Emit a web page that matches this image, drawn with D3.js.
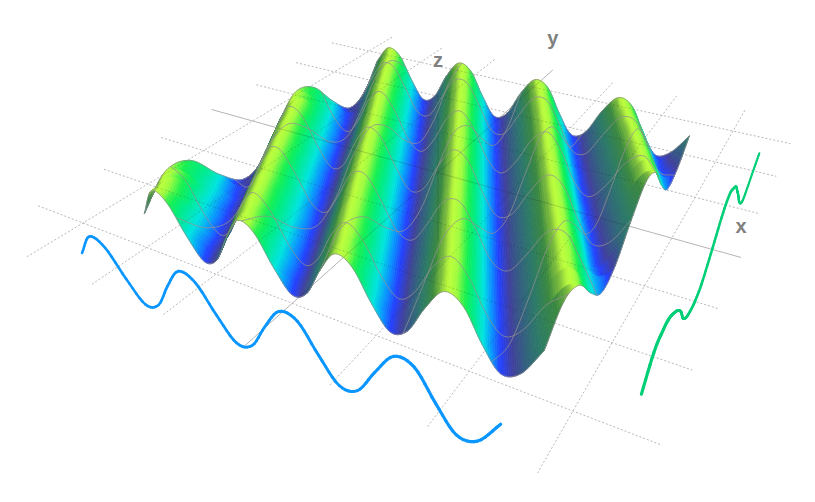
<!DOCTYPE html>
<html><head><meta charset="utf-8">
<script src="https://cdn.jsdelivr.net/npm/d3@7"></script>
<style>html,body{margin:0;padding:0;background:#fff}svg{display:block}</style>
</head><body><svg id="chart" width="815" height="502"></svg>
<script>
// ---- data ----
const tickValues=[-3,-2,-1,0,1,2,3];
const xValues=[-2.52,-2.31,-2.10,-1.89,-1.68,-1.47,-1.26,-1.05,-0.84,-0.63,-0.42,-0.21,0,0.21,0.42,0.63,0.84,1.05,1.26,1.47,1.68,1.89,2.10,2.31,2.52];
const yValues=[-2.52,-2.10,-1.68,-1.26,-0.84,-0.42,0,0.42,0.84,1.26,1.68,2.10,2.52];
const zRows=[
[1,36,27,-9,-36,-27,9,36,27,-9,-36,-27,9,36,27,-9,-36,-27,9,36,27,-9,-36,-27,9],
[34,30,-9,-36,-27,9,36,27,-9,-36,-27,9,36,27,-9,-36,-27,9,36,27,-9,-36,-27,9,36],
[29,-9,-36,-27,9,36,27,-9,-36,-27,9,36,27,-9,-36,-27,9,36,27,-9,-36,-27,9,36,27],
[-9,-36,-27,9,36,27,-9,-36,-27,9,36,27,-9,-36,-27,9,36,27,-9,-36,-27,9,36,27,-9],
[-36,-27,9,36,27,-9,-36,-27,9,36,27,-9,-36,-27,9,36,27,-9,-36,-27,9,36,27,-9,-36],
[-27,9,36,27,-9,-36,-27,9,36,27,-9,-36,-27,9,36,27,-9,-36,-27,9,36,27,-9,-36,-27],
[9,36,27,-9,-36,-27,9,36,27,-9,-36,-27,9,36,27,-9,-36,-27,9,36,27,-9,-36,-27,9],
[36,27,-9,-36,-27,9,36,27,-9,-36,-27,9,36,27,-9,-36,-27,9,36,27,-9,-36,-27,9,36],
[27,-9,-36,-27,9,36,27,-9,-36,-27,9,36,27,-9,-36,-27,9,36,27,-9,-36,-27,9,35,27],
[-9,-36,-27,9,36,27,-9,-36,-27,9,36,27,-9,-36,-27,9,36,27,-9,-36,-27,9,35,27,-9],
[-36,-27,9,34,27,-9,-36,-27,9,34,27,-9,-36,-27,9,34,27,-9,-36,-27,9,34,27,-9,-36],
[-27,9,33,25,-9,-36,-27,9,33,25,-9,-36,-27,9,33,25,-9,-36,-27,9,33,25,-9,-36,-27],
[9,33,25,-9,-36,-27,9,33,25,-9,-36,-27,9,33,25,-9,-36,-27,9,33,25,-9,-36,-27,2]
];
const blueZ=[1,28,21,-10,-35,-28,3,28,22,-9,-35,-30,1,27,24,-7,-34,-31,0,27,24,-7,-34,-31,-1];
const greenZ=[0,30,37,37,29,18,2,-20,-33,-38,-38,-27,2,34,46,42,34,18,2,-16,-30,-36,-26,-12,0];
const axisNames=["x","y","z"];

// ---- camera ----
const M=[[344,455.1,-27.4,83],[83.3,-148.6,-91.5,223],[-0.2548,0.4582,-0.0626,1]];
const aS=d3.scaleLinear().domain([-3,3]).range([0,1]);
const zS=d3.scaleLinear().domain([-1,1]).range([-1,1]);
function project(x,y,z){
  const a=aS(x),b=aS(y),c=zS(z);
  const w=M[2][0]*a+M[2][1]*b+M[2][2]*c+M[2][3];
  return [(M[0][0]*a+M[0][1]*b+M[0][2]*c+M[0][3])/w,(M[1][0]*a+M[1][1]*b+M[1][2]*c+M[1][3])/w,w];
}
const svg=d3.select("#chart");
const line=d3.line();
const LEXT=3.76;

// ---- colour along the wave ----
const colour=d3.scaleLinear()
 .domain([0,.06,.14,.20,.30,.38,.46,.56,.66,.76,.86,.93,.97,1])
 .range(["#bcff3c","#a0fb40","#18f050","#00ec80","#00e4e0","#0a90ff","#2440ff","#40409c","#335f80","#2c7a68","#3a8840","#80c03c","#b0f03c","#bcff3c"])
 .interpolate(d3.interpolateRgb);

// ---- smooth sampling of the table ----
function cr(p0,p1,p2,p3,t){return .5*((2*p1)+(-p0+p2)*t+(2*p0-5*p1+4*p2-p3)*t*t+(-p0+3*p1-3*p2+p3)*t*t*t);}
const C=xValues.length,R=yValues.length;
function val(i,j){
  let ii=Math.max(0,Math.min(C-1,i)),jj=Math.max(0,Math.min(R-1,j));
  let v=zRows[jj][ii];
  if(i<0)v+=i*(zRows[jj][1]-zRows[jj][0]); if(i>C-1)v+=(i-C+1)*(zRows[jj][C-1]-zRows[jj][C-2]);
  if(j<0)v+=j*(zRows[1][ii]-zRows[0][ii]); if(j>R-1)v+=(j-R+1)*(zRows[R-1][ii]-zRows[R-2][ii]);
  return v/100;
}
const slope=(i,j)=>(val(i+1,j)-val(i-1,j))/2/0.866;
function bicubic(f,u,v){
  const i=Math.max(0,Math.min(C-2,Math.floor(u))),j=Math.max(0,Math.min(R-2,Math.floor(v))),tu=u-i,tv=v-j,row=[];
  for(let k=-1;k<=2;k++)row.push(cr(f(i-1,j+k),f(i,j+k),f(i+1,j+k),f(i+2,j+k),tu));
  return cr(row[0],row[1],row[2],row[3],tv);
}
const sample=(u,v)=>bicubic(val,u,v);
const ux=d3.scaleLinear().domain([0,C-1]).range([xValues[0],xValues[C-1]]);
const vy=d3.scaleLinear().domain([0,R-1]).range([yValues[0],yValues[R-1]]);
const P=(u,v)=>project(ux(u),vy(v),sample(u,v));

// ---- floor ----
function gridLines(g,cls){
  tickValues.forEach(t=>{
    [[[-LEXT,t],[LEXT,t]],[[t,-LEXT],[t,LEXT]]].forEach(([s,e])=>{
      g.append("path").attr("d",line([project(s[0],s[1],0),project(e[0],e[1],0)].map(p=>[p[0],p[1]])))
       .attr("fill","none").attr("class",cls+(t===0?" axis":""));
    });
  });
  g.append("path").attr("class",cls+" axis").attr("fill","none")
   .attr("d",line([project(0,0,-1),project(0,0,1)].map(p=>[p[0],p[1]])));
}
const under=svg.append("g");
gridLines(under,"fl");
under.selectAll(".fl").attr("stroke","#b8b8b8").attr("stroke-width",1).attr("stroke-dasharray","2 2");
under.selectAll(".axis").attr("stroke-dasharray",null).attr("stroke","#b5b5b5");

// ---- surface: cells laid along the ridges so the colour bands stay clean ----
function clipRect(poly){
  const edges=[[p=>p[0]>=0,(a,b)=>-a[0]/(b[0]-a[0])],[p=>p[0]<=C-1,(a,b)=>(C-1-a[0])/(b[0]-a[0])],
               [p=>p[1]>=0,(a,b)=>-a[1]/(b[1]-a[1])],[p=>p[1]<=R-1,(a,b)=>(R-1-a[1])/(b[1]-a[1])]];
  let out=poly;
  edges.forEach(([inside,cut])=>{
    const src=out;out=[];
    src.forEach((a,i)=>{const b=src[(i+1)%src.length],ia=inside(a),ib=inside(b);
      if(ia)out.push(a);
      if(ia!==ib){const t=cut(a,b);out.push([a[0]+t*(b[0]-a[0]),a[1]+t*(b[1]-a[1])]);}
    });
  });
  return out;
}
const cells=[];
const dp=0.1,dq=1;
for(let p=0;p<C-1+R-1;p+=dp)for(let q=-(R-1);q<C-1;q+=dq){
  const toUV=(pp,qq)=>[(pp+qq)/2,(pp-qq)/2];
  const poly=clipRect([toUV(p,q),toUV(p+dp,q),toUV(p+dp,q+dq),toUV(p,q+dq)]);
  if(poly.length<3)continue;
  const cu=d3.mean(poly,o=>o[0]),cv=d3.mean(poly,o=>o[1]);
  const z=sample(cu,cv),s=bicubic(slope,cu,cv);
  const t=((Math.atan2(-s,z)/(2*Math.PI))+1)%1;
  const pts=poly.map(o=>P(o[0],o[1]));
  cells.push({q:pts.map(o=>[o[0],o[1]]),w:d3.mean(pts,o=>o[2]),t});
}
cells.sort((a,b)=>b.w-a.w);
svg.append("g").selectAll("path").data(cells).join("path")
 .attr("d",c=>line(c.q)+"Z").attr("fill",c=>colour(c.t)).attr("stroke",c=>colour(c.t)).attr("stroke-width",.8).attr("stroke-linejoin","round");

// ---- floor seen through the surface (only where the surface is) ----
svg.append("clipPath").attr("id","onSurface").append("path")
 .attr("d",cells.map(c=>line(c.q)+"Z").join(""));
const over=svg.append("g").attr("clip-path","url(#onSurface)");
gridLines(over,"ov");
over.selectAll(".ov").attr("stroke","#222").attr("stroke-opacity",.18).attr("stroke-width",1).attr("stroke-dasharray","2 2");
over.selectAll(".axis").attr("stroke-dasharray",null);

// ---- contour curves ----
const cg=svg.append("g").attr("fill","none").attr("stroke","#909090").attr("stroke-width",1).attr("stroke-opacity",.75);
const uOf=d3.scaleLinear().domain([xValues[0],xValues[C-1]]).range([0,C-1]);
const vOf=d3.scaleLinear().domain([yValues[0],yValues[R-1]]).range([0,R-1]);
const nu=(C-1)*5,nv=(R-1)*8;
const fineU=d3.range(0,nu+1).map(i=>i/5),fineV=d3.range(0,nv+1).map(j=>j/8);
const edgeX=[xValues[0],-2,-1,0,1,2,xValues[C-1]],edgeY=[yValues[0],-2,-1,0,1,2,yValues[R-1]];
edgeY.forEach(y=>cg.append("path").attr("d",line(fineU.map(u=>P(u,vOf(y)).slice(0,2)))));
edgeX.forEach(x=>cg.append("path").attr("d",line(fineV.map(v=>P(uOf(x),v).slice(0,2)))));

// ---- wall curves ----
const BLUE_WALL=-3.43,GREEN_WALL=3.45;
function widthLine(pts,col,base){
  const segs=d3.pairs(pts);
  svg.append("g").selectAll("path").data(segs).join("path")
   .attr("d",s=>line([s[0].slice(0,2),s[1].slice(0,2)]))
   .attr("stroke",col).attr("stroke-linecap","round").attr("fill","none")
   .attr("stroke-width",s=>base/s[0][2]);
}
function smooth(arr,n){const out=[];const L=arr.length;
  const g=q=>q<0?2*arr[0]-arr[1]:q>=L?2*arr[L-1]-arr[L-2]:arr[q];
  for(let i=0;i<L-1;i++)for(let k=0;k<n;k++)out.push(cr(g(i-1),g(i),g(i+1),g(i+2),k/n));
  out.push(arr[L-1]);return out;}
const gv=d3.scaleLinear().domain([0,greenZ.length-1]).range([yValues[0],yValues[R-1]]);
const bs=smooth(blueZ,6),gs=smooth(greenZ,6);
widthLine(bs.map((z,i)=>project(ux(i/6),BLUE_WALL,z/100)),"#0a96ff",2.4);
widthLine(gs.map((z,i)=>project(GREEN_WALL,gv(i/6),z/100)),"#00cf78",2.4);

// ---- labels ----
const ends=[project(LEXT,0,0),project(0,LEXT,0),project(0,0,1)];
const lift=[30,30,33];
svg.append("g").selectAll("text").data(axisNames).join("text")
 .attr("x",(d,i)=>ends[i][0]).attr("y",(d,i)=>ends[i][1]-lift[i])
 .attr("text-anchor","middle").attr("dominant-baseline","middle")
 .attr("font-family","'Liberation Sans',Arial,sans-serif").attr("font-weight","bold").attr("font-size",20)
 .attr("fill","#808080").text(d=>d);
</script></body></html>
